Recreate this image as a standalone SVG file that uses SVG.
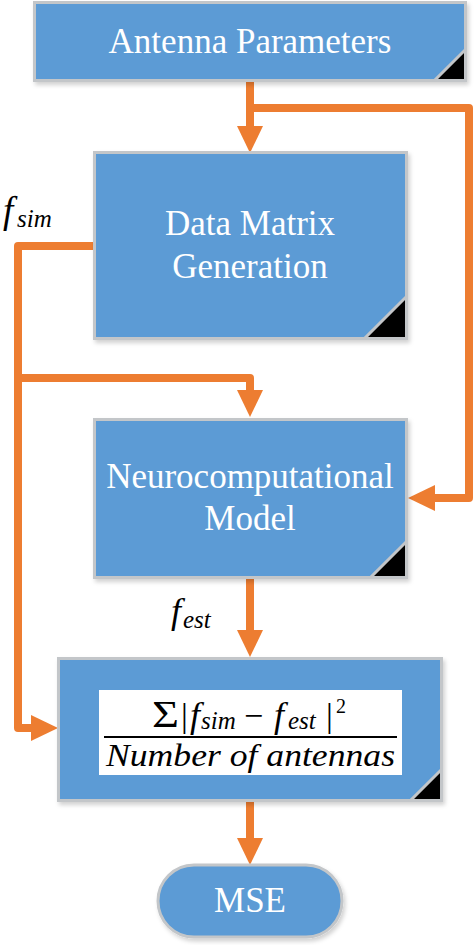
<svg xmlns="http://www.w3.org/2000/svg" width="474" height="949" viewBox="0 0 474 949">
<style>
.box{fill:#5b9bd5;stroke:#c3c6c9;stroke-width:3}
.tri{fill:#000;stroke:#c3c6c9;stroke-width:3;stroke-linejoin:miter}
.lbl{font-family:"Liberation Serif",serif;font-size:35px;fill:#fff;text-anchor:middle}
.con{fill:none;stroke:#ed7d31;stroke-width:8;stroke-linejoin:round}
.m{font-family:"Liberation Serif",serif;fill:#000}
.it{font-style:italic}
</style>
<defs>
<marker id="ah" markerUnits="userSpaceOnUse" markerWidth="27" markerHeight="26" refX="0" refY="13" orient="auto" viewBox="0 0 27 26">
<path d="M0,0 L27,13 L0,26 z" fill="#ed7d31"/>
</marker>
<filter id="sh" x="-5%" y="-5%" width="112%" height="115%">
<feDropShadow dx="2" dy="3" stdDeviation="2" flood-color="#000" flood-opacity="0.18"/>
</filter>
</defs>
<g id="connectors">
<path class="con" d="M250,82 V126" marker-end="url(#ah)"/>
<path class="con" d="M250,108 H469 V498 H435" marker-end="url(#ah)"/>
<path class="con" d="M94,246 H18 V728 H31" marker-end="url(#ah)"/>
<path class="con" d="M18,378 H250 V390" marker-end="url(#ah)"/>
<path class="con" d="M250,578 V630" marker-end="url(#ah)"/>
<path class="con" d="M250,802 V838" marker-end="url(#ah)"/>
</g>
<g id="antenna-parameters">
<rect class="box" x="34.5" y="2.5" width="431" height="78" filter="url(#sh)"/>
<polygon class="tri" points="465.5,49.5 465.5,80.5 434.5,80.5"/>
<text class="lbl" x="250" y="53">Antenna Parameters</text>
</g>
<g id="data-matrix">
<rect class="box" x="94.5" y="152.5" width="312" height="186" filter="url(#sh)"/>
<polygon class="tri" points="406.5,296.5 406.5,338.5 364.5,338.5"/>
<text class="lbl" x="250" y="235">Data Matrix</text>
<text class="lbl" x="250" y="278">Generation</text>
</g>
<g id="neuro-model">
<rect class="box" x="94.5" y="419.5" width="312" height="158" filter="url(#sh)"/>
<polygon class="tri" points="406.5,541.5 406.5,577.5 370.5,577.5"/>
<text class="lbl" x="250" y="488">Neurocomputational</text>
<text class="lbl" x="250" y="530">Model</text>
</g>
<g id="mse-formula">
<rect class="box" x="58.5" y="658.5" width="383" height="142" filter="url(#sh)"/>
<polygon class="tri" points="441.5,769.5 441.5,800.5 410.5,800.5"/>
<rect x="99" y="690" width="303" height="85" fill="#fff"/>
<text class="m" x="152" y="727" font-size="38" textLength="27" lengthAdjust="spacingAndGlyphs">Σ</text>
<text class="m" x="181" y="727" font-size="34">|</text>
<text class="m it" x="190" y="727" font-size="36">f</text>
<text class="m it" x="201" y="729" font-size="25">sim</text>
<text class="m" x="244" y="727" font-size="34">−</text>
<text class="m it" x="274" y="727" font-size="36">f</text>
<text class="m it" x="288" y="729" font-size="25">est</text>
<text class="m" x="326" y="727" font-size="34">|</text>
<text class="m" x="336" y="713" font-size="20">2</text>
<line x1="104" y1="737" x2="397" y2="737" stroke="#000" stroke-width="2"/>
<text class="m it" x="106" y="766" font-size="31" textLength="289" lengthAdjust="spacingAndGlyphs">Number of antennas</text>
</g>
<g id="mse">
<rect class="box" x="158" y="865" width="184" height="72" rx="36" filter="url(#sh)"/>
<text class="lbl" x="250" y="912" font-size="36">MSE</text>
</g>
<g id="labels">
<text class="m it" x="3" y="223" font-size="37">f</text>
<text class="m it" x="17" y="227" font-size="25">sim</text>
<text class="m it" x="171" y="623" font-size="36">f</text>
<text class="m it" x="183" y="628" font-size="25">est</text>
</g>
</svg>
